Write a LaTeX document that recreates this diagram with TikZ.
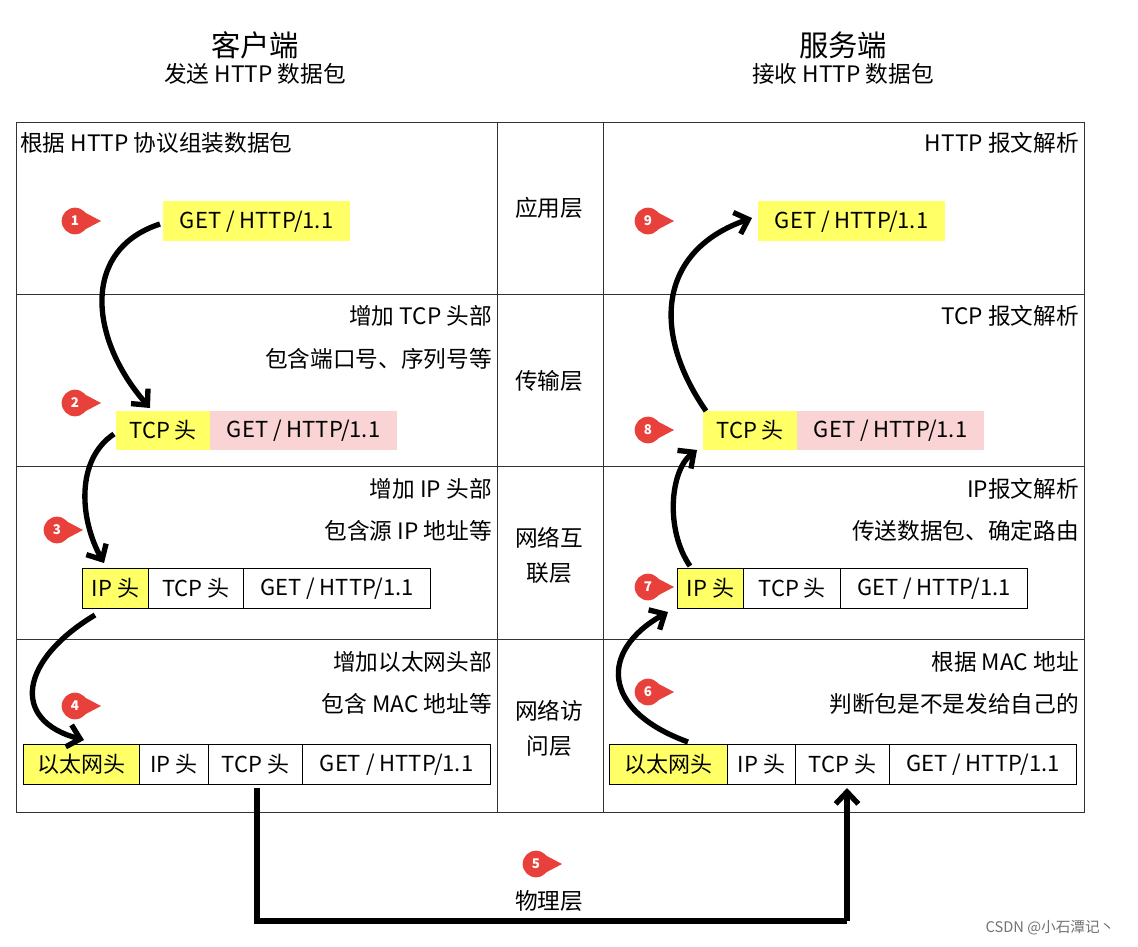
\documentclass[tikz,border=0pt]{standalone}
\usepackage{fontspec}
\setmainfont{Noto Sans CJK SC}
\usetikzlibrary{arrows.meta,calc}
\definecolor{hy}{HTML}{FFFF66}
\definecolor{hp}{HTML}{FAD4D4}
\definecolor{mk}{HTML}{E8413C}
\tikzset{
  lbl/.style={font=\fontsize{17}{19}\selectfont, inner sep=0pt},
  ttl/.style={font=\fontsize{22}{24}\selectfont, inner sep=0pt},
  cell/.style={draw=black, line width=0.8pt, minimum height=30pt, inner sep=0pt, font=\fontsize{16.5}{18}\selectfont, anchor=north west},
  ycell/.style={cell, fill=hy},
  yf/.style={fill=hy, minimum height=30pt, inner sep=0pt, font=\fontsize{16.5}{18}\selectfont, anchor=north west},
  pf/.style={fill=hp, minimum height=29pt, inner sep=0pt, font=\fontsize{16.5}{18}\selectfont, anchor=north west},
  flow/.style={line width=4pt, -{Straight Barb[length=9pt,width=17pt,line width=4pt]}},
  grid/.style={line width=0.7pt, draw=black!80}
}
\newcommand{\mkr}[3]{\fill[mk] (#1,#2) circle[radius=10pt]; \fill[mk] ($(#1,#2)+(7,-10)$) -- ($(#1,#2)+(26,0)$) -- ($(#1,#2)+(7,10)$) -- cycle; \node[text=white, font=\bfseries\fontsize{10}{11}\selectfont] (m#3) at (#1,#2) {#3};}
\begin{document}
\begin{tikzpicture}[x=0.75pt,y=-0.75pt]
\useasboundingbox[fill=white] (0,0) rectangle (1138,946);
% titles
\node[ttl] (t1) at (255,45) {客户端};
\node[lbl] (t1b) at (255,74) {发送 HTTP 数据包};
\node[ttl] (t2) at (843,45) {服务端};
\node[lbl] (t2b) at (843,74) {接收 HTTP 数据包};
% grid
\draw[grid] (16,122) rectangle (1084,812);
\foreach \y in {294,466,639} \draw[grid] (16,\y) -- (1084,\y);
\draw[grid] (497,122) -- (497,812);
\draw[grid] (603,122) -- (603,812);
% middle labels
\node[lbl] (l1) at (549,208) {应用层};
\node[lbl] (l2) at (549,381) {传输层};
\node[lbl,align=center] (l3) at (549,555) {网络互\\[7pt]联层};
\node[lbl,align=center] (l4) at (549,728) {网络访\\[7pt]问层};
\node[lbl] (l5) at (549,901) {物理层};
% left texts
\node[lbl,anchor=west] (a1) at (20,143) {根据 HTTP 协议组装数据包};
\node[lbl,anchor=east] (a2) at (492,316) {增加 TCP 头部};
\node[lbl,anchor=east] (a2b) at (492,359) {包含端口号、序列号等};
\node[lbl,anchor=east] (a3) at (492,489) {增加 IP 头部};
\node[lbl,anchor=east] (a3b) at (492,531) {包含源 IP 地址等};
\node[lbl,anchor=east] (a4) at (492,662) {增加以太网头部};
\node[lbl,anchor=east] (a4b) at (492,704) {包含 MAC 地址等};
% right texts
\node[lbl,anchor=east] (b1) at (1079,143) {HTTP 报文解析};
\node[lbl,anchor=east] (b2) at (1079,316) {TCP 报文解析};
\node[lbl,anchor=east] (b3) at (1079,489) {IP报文解析};
\node[lbl,anchor=east] (b3b) at (1079,531) {传送数据包、确定路由};
\node[lbl,anchor=east] (b4) at (1079,662) {根据 MAC 地址};
\node[lbl,anchor=east] (b4b) at (1079,704) {判断包是不是发给自己的};
% left packets
\node[yf, minimum width=140pt] (p1) at (163,201) {GET / HTTP/1.1};
\node[yf, minimum width=70.5pt, minimum height=29pt] (p2a) at (116,411) {TCP 头};
\node[pf, minimum width=140pt] (p2b) at (210,411) {GET / HTTP/1.1};
\node[ycell, minimum width=49.5pt] (p3a) at (82,568) {IP 头};
\node[cell, minimum width=71pt] (p3b) at (148,568) {TCP 头};
\node[cell, minimum width=140pt] (p3c) at (243,568) {GET / HTTP/1.1};
\node[ycell, minimum width=87pt] (p4a) at (23,744) {以太网头};
\node[cell, minimum width=52pt] (p4b) at (139,744) {IP 头};
\node[cell, minimum width=70.5pt] (p4c) at (208,744) {TCP 头};
\node[cell, minimum width=141pt] (p4d) at (302,744) {GET / HTTP/1.1};
% right packets
\node[yf, minimum width=140pt] (q1) at (758,201) {GET / HTTP/1.1};
\node[yf, minimum width=70.5pt, minimum height=29pt] (q2a) at (703,411) {TCP 头};
\node[pf, minimum width=140pt] (q2b) at (797,411) {GET / HTTP/1.1};
\node[ycell, minimum width=49.5pt] (q3a) at (677,568) {IP 头};
\node[cell, minimum width=73pt] (q3b) at (743,568) {TCP 头};
\node[cell, minimum width=140pt] (q3c) at (840,568) {GET / HTTP/1.1};
\node[ycell, minimum width=88.5pt] (q4a) at (609,744) {以太网头};
\node[cell, minimum width=51pt] (q4b) at (727,744) {IP 头};
\node[cell, minimum width=70.5pt] (q4c) at (795,744) {TCP 头};
\node[cell, minimum width=140pt] (q4d) at (889,744) {GET / HTTP/1.1};
% markers
\mkr{75}{221}{1}
\mkr{75}{403}{2}
\mkr{57}{530}{3}
\mkr{75}{706}{4}
\mkr{536}{864}{5}
\mkr{648}{692}{6}
\mkr{648}{587}{7}
\mkr{648}{430}{8}
\mkr{648}{221}{9}
% flow endpoints
\coordinate (s1) at (160,224); \coordinate (e1) at (150,408);
\coordinate (s2) at (114,434); \coordinate (e2) at (104,563);
\coordinate (s3) at (95,615);  \coordinate (e3) at (84,740);
\coordinate (s5) at (257,788); \coordinate (c1) at (257,921);
\coordinate (c2) at (847,921); \coordinate (e5) at (847,788);
\coordinate (s6) at (688,742); \coordinate (e6) at (668,612);
\coordinate (s7) at (690,566); \coordinate (e7) at (697,450);
\coordinate (s8) at (706,411); \coordinate (e8) at (752,218);
% flows
\draw[flow] (s1) .. controls (80,250) and (90,340) .. (e1);
\draw[flow] (s2) .. controls (75,460) and (80,520) .. (e2);
\draw[flow] (s3) .. controls (20,660) and (10,720) .. (e3);
\draw[line width=4pt] (s5) -- (c1) -- (c2);
\draw[flow] (c2) -- (e5);
\draw[flow] (s6) .. controls (600,710) and (600,650) .. (e6);
\draw[flow] (s7) .. controls (665,530) and (670,470) .. (e7);
\draw[flow] (s8) .. controls (650,330) and (660,250) .. (e8);
% watermark
\node[font=\fontsize{11}{12}\selectfont, text=black!55, inner sep=0pt] (wm) at (1050,928) {CSDN @小石潭记丶};
\end{tikzpicture}
\end{document}
